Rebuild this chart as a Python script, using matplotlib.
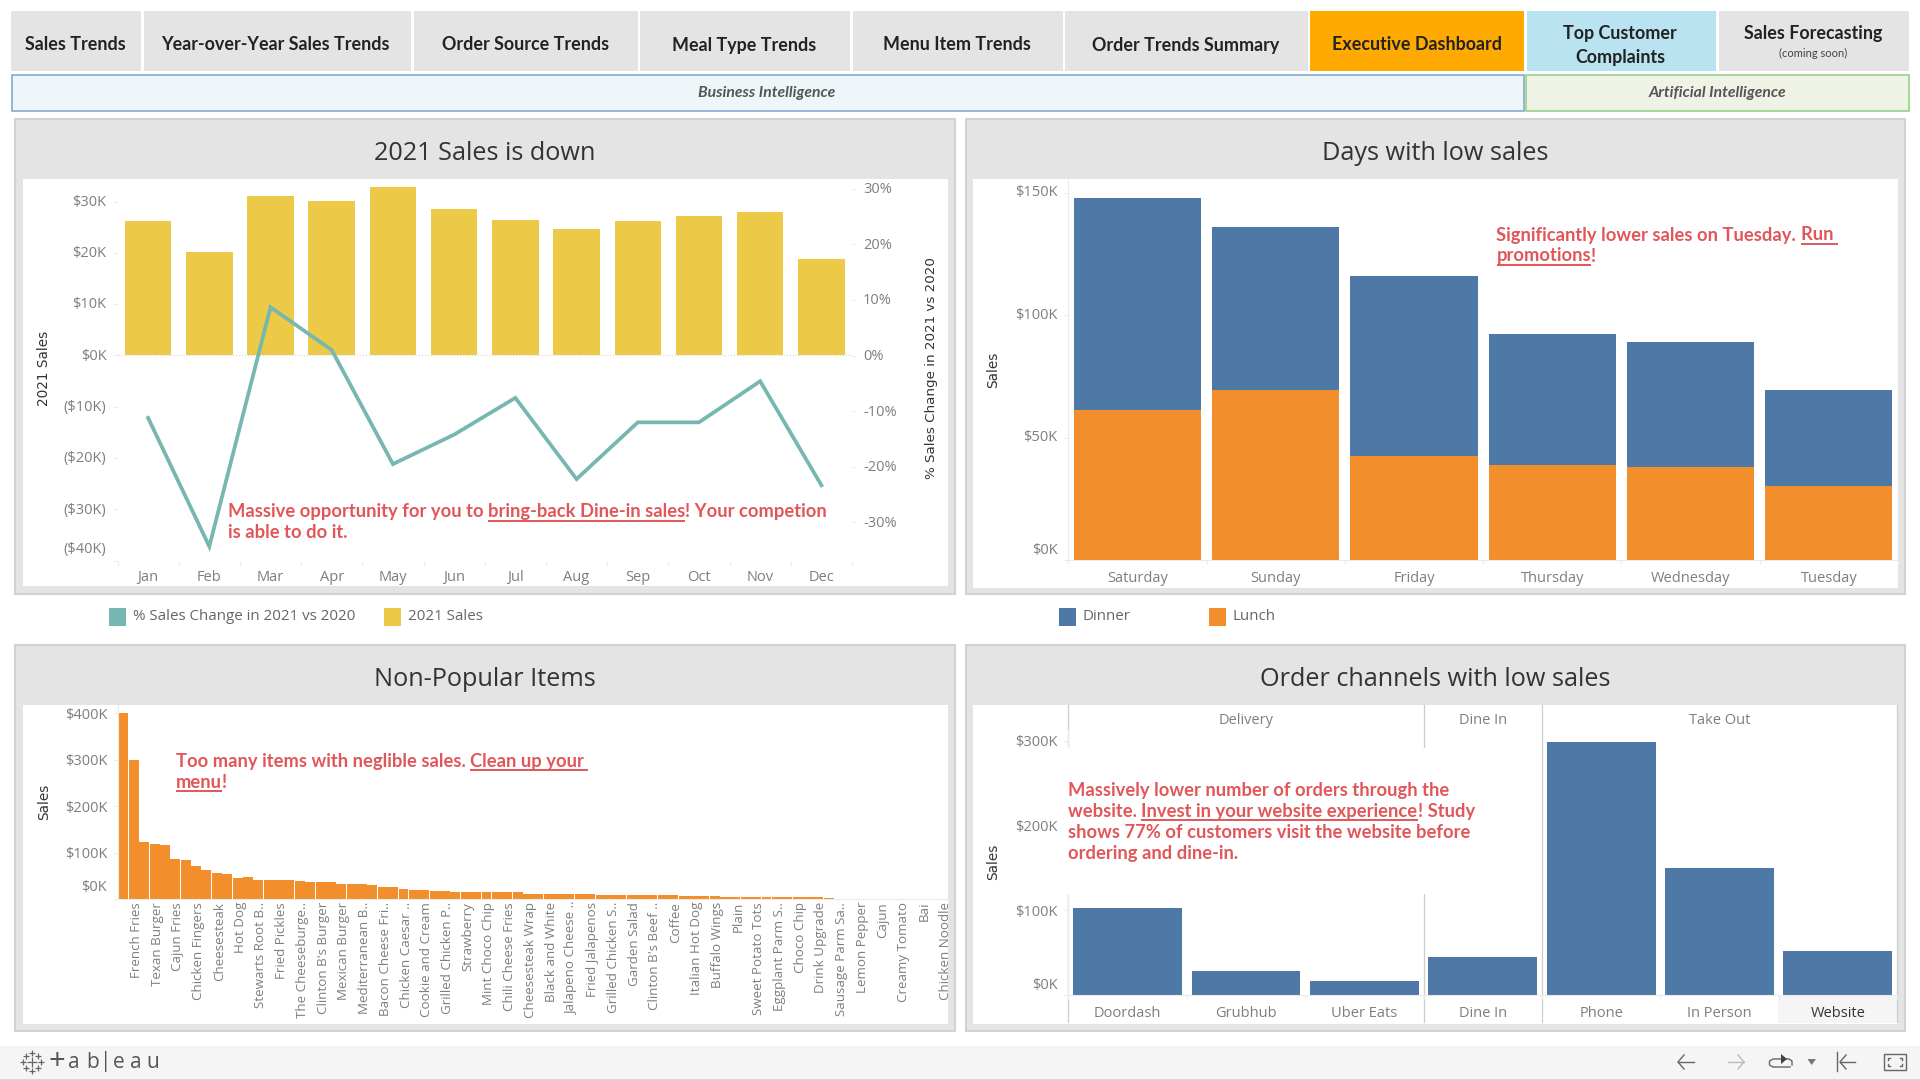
import matplotlib
matplotlib.use("Agg")
import matplotlib.pyplot as plt
from matplotlib.patches import Rectangle, Polygon
from matplotlib.ticker import FixedLocator
from matplotlib.transforms import ScaledTranslation

# ---- navigation ----
tab_names = ["Sales Trends", "Year-over-Year Sales Trends", "Order Source Trends", "Meal Type Trends",
             "Menu Item Trends", "Order Trends Summary", "Executive Dashboard"]
tab_edges = [(11, 141), (144, 411), (414, 637.5), (640, 850), (853, 1063), (1065, 1308), (1310, 1524)]
tab_text_x = [75.5, 275, 525.5, 744, 956.5, 1185.5, 1417]

# ---- 2021 sales ----
months = ["Jan", "Feb", "Mar", "Apr", "May", "Jun", "Jul", "Aug", "Sep", "Oct", "Nov", "Dec"]
sales_2021 = [26.2, 20.1, 31.0, 30.1, 32.8, 28.6, 26.4, 24.7, 26.2, 27.2, 27.9, 18.8]
pct_change = [-11.2, -34.3, 8.7, 1.0, -19.5, -14.2, -7.6, -22.2, -12.0, -12.0, -4.6, -23.3]
sales_ticks = [30, 20, 10, 0, -10, -20, -30, -40]
sales_tick_labels = ["$30K", "$20K", "$10K", "$0K", "($10K)", "($20K)", "($30K)", "($40K)"]
pct_ticks = [30, 20, 10, 0, -10, -20, -30]
pct_tick_labels = ["30%", "20%", "10%", "0%", "-10%", "-20%", "-30%"]

# ---- sales per weekday ----
days = ["Saturday", "Sunday", "Friday", "Thursday", "Wednesday", "Tuesday"]
lunch = [61.4, 69.6, 42.5, 38.9, 37.9, 30.2]
day_totals = [148.2, 136.0, 116.0, 92.4, 89.0, 69.4]
day_ticks = [0, 50, 100, 150]
day_tick_labels = ["$0K", "$50K", "$100K", "$150K"]

# ---- sales per menu item ----
item_sales = [400, 300, 122, 119, 116, 87, 84, 71, 62.5, 55, 54.5, 46, 46.5, 41, 41, 41, 40.5, 38, 36, 36,
              36, 33, 33, 33, 30, 25, 25, 22, 19, 19, 16.5, 16.5, 14.5, 14.5, 14.5, 14.5, 14.5, 15, 15, 10.8,
              10.8, 10.8, 11.5, 11.5, 11.5, 11.5, 8.6, 8.6, 8.6, 8.6, 8.6, 8.6, 8.6, 8.6, 5.7, 5.7, 5.7, 5.7,
              3.6, 3.6, 3.6, 3.6, 3.6, 3.6, 3.6, 3.6, 3.6, 3.6, 3.0, 0.9, 0.8, 0.7, 0.6, 0.6, 0.5, 0.4, 0.4,
              0.3, 0.2, 0.2]
item_labels = ["French Fries", "Texan Burger", "Cajun Fries", "Chicken Fingers", "Cheesesteak", "Hot Dog",
               "Stewarts Root B..", "Fried Pickles", "The Cheeseburge..", "Clinton B's Burger", "Mexican Burger",
               "Mediterranean B..", "Bacon Cheese Fri..", "Chicken Caesar ..", "Cookie and Cream",
               "Grilled Chicken P..", "Strawberry", "Mint Choco Chip", "Chili Cheese Fries", "Cheesesteak Wrap",
               "Black and White", "Jalapeno Cheese ..", "Fried Jalapenos", "Grilled Chicken S..", "Garden Salad",
               "Clinton B's Beef ..", "Coffee", "Italian Hot Dog", "Buffalo Wings", "Plain", "Sweet Potato Tots",
               "Eggplant Parm S..", "Choco Chip", "Drink Upgrade", "Sausage Parm Sa..", "Lemon Pepper", "Cajun",
               "Creamy Tomato", "Bai", "Chicken Noodle"]
item_ticks = [0, 100, 200, 300, 400]
item_tick_labels = ["$0K", "$100K", "$200K", "$300K", "$400K"]

# ---- sales per order channel ----
channels = ["Doordash", "Grubhub", "Uber Eats", "Dine In", "Phone", "In Person", "Website"]
channel_sales = [102.4, 28.3, 16.5, 44.9, 298.4, 149.6, 52.0]
channel_groups = [("Delivery", 0, 2), ("Dine In", 3, 3), ("Take Out", 4, 6)]
channel_ticks = [0, 100, 200, 300]
channel_tick_labels = ["$0K", "$100K", "$200K", "$300K"]

# ---- colours ----
GOLD, TEAL, BLUE, ORANGE = "#ECC947", "#76B7B2", "#4E79A7", "#F28E2B"
RED = "#E15759"
PANEL, PANEL_EDGE = "#E4E4E4", "#D2D2D2"
TICK_TEXT = "#7E7E7E"
FAINT = "#EBEBEB"
BODY = "Open Sans"
TAB_FONT = "Lato"

fig = plt.figure(figsize=(19.2, 10.8), dpi=100, facecolor="white")


def overlay(z):
    ax = fig.add_axes([0, 0, 1, 1], zorder=z)
    ax.set_xlim(0, 1920)
    ax.set_ylim(1080, 0)
    ax.axis("off")
    ax.patch.set_alpha(0)
    return ax


back = overlay(0)
front = overlay(5)


def chart_axes(x0, y0, x1, y1):
    ax = fig.add_axes([x0 / 1920, 1 - y1 / 1080, (x1 - x0) / 1920, (y1 - y0) / 1080], zorder=2)
    ax.patch.set_alpha(0)
    for side in ("top", "right"):
        ax.spines[side].set_visible(False)
    for side in ("left", "bottom"):
        ax.spines[side].set_color(FAINT)
        ax.spines[side].set_linewidth(0.8)
    ax.tick_params(axis="both", which="both", color=FAINT, width=0.8, length=3)
    return ax


def box(ax, x0, y0, x1, y1, face, edge="none", lw=0.0, z=1):
    ax.add_patch(Rectangle((x0, y0), x1 - x0, y1 - y0, facecolor=face, edgecolor=edge, linewidth=lw, zorder=z))


def nudge(label, dy_px, dx_px=0.0):
    shift = ScaledTranslation(dx_px / 100, dy_px / 100, fig.dpi_scale_trans)
    label.set_transform(label.get_transform() + shift)


def style_y(ax, ticks, labels, pad=5):
    ax.set_yticks(ticks)
    ax.set_yticklabels(labels, fontsize=10.5, color=TICK_TEXT, family=BODY)
    ax.tick_params(axis="y", pad=pad)


def category_x(ax, names, text_px, size=10.5):
    ax.set_xlim(-0.5, len(names) - 0.5)
    ax.set_xticks(range(len(names)))
    ax.set_xticklabels(names, fontsize=size, color=TICK_TEXT, family=BODY)
    ax.xaxis.set_minor_locator(FixedLocator([i - 0.5 for i in range(len(names) + 1)]))
    ax.tick_params(axis="x", which="major", length=0, pad=text_px * 0.72)


def rich_text(x, y, lines, size=13.2, step=21):
    renderer = fig.canvas.get_renderer()

    def advance(s):
        whole = front.text(0, 0, s + "|", fontsize=size, family=TAB_FONT, weight="bold")
        bar = front.text(0, 0, "|", fontsize=size, family=TAB_FONT, weight="bold")
        w = whole.get_window_extent(renderer).width - bar.get_window_extent(renderer).width
        whole.remove()
        bar.remove()
        return w

    for row, runs in enumerate(lines):
        cx = x
        cy = y + row * step
        for s, underlined in runs:
            front.text(cx, cy, s, fontsize=size, family=TAB_FONT, weight="bold", color=RED,
                       ha="left", va="center", zorder=8)
            w = advance(s)
            if underlined:
                front.plot([cx, cx + w], [cy + 8.5, cy + 8.5], color=RED, lw=1.4, solid_capstyle="butt", zorder=8)
            cx += w


# ---- tab bar ----
for name, (x0, x1), tx in zip(tab_names, tab_edges, tab_text_x):
    active = name == "Executive Dashboard"
    box(back, x0, 11, x1, 71, "#FFAA00" if active else PANEL)
    back.text(tx, 45, name, fontsize=12.9, family=TAB_FONT, weight="bold", color="#222222",
              ha="center", va="center", zorder=3)
box(back, 1526.5, 11, 1716, 71, "#B9E3F0")
back.text(1620, 33, "Top Customer", fontsize=12.9, family=TAB_FONT, weight="bold", color="#222222", ha="center", va="center", zorder=3)
back.text(1620, 57.5, "Complaints", fontsize=12.9, family=TAB_FONT, weight="bold", color="#222222", ha="center", va="center", zorder=3)
box(back, 1719, 11, 1909, 71, PANEL)
back.text(1813, 34, "Sales Forecasting", fontsize=12.9, family=TAB_FONT, weight="bold", color="#222222", ha="center", va="center", zorder=3)
back.text(1813, 53, "(coming soon)", fontsize=8, family=TAB_FONT, color="#444444", ha="center", va="center", zorder=3)

box(back, 11.5, 74.5, 1524, 110.5, "#EEF6F9", "#7CA3C8", 1.1)
box(back, 1526, 74.5, 1908.5, 110.5, "#EEF3E5", "#90CC80", 1.1)
back.text(767, 93.5, "Business Intelligence", fontsize=11.3, family=TAB_FONT, weight="bold", style="italic", color="#555555", ha="center", va="center", zorder=3)
back.text(1717.5, 93.5, "Artificial Intelligence", fontsize=11.3, family=TAB_FONT, weight="bold", style="italic", color="#555555", ha="center", va="center", zorder=3)

# ---- panel frames ----
frames = [(15, 118.5, 955, 594, 179, 586, 23, 948, "2021 Sales is down", 154),
          (966, 118.5, 1905, 594, 179, 588, 973, 1898, "Days with low sales", 154),
          (15, 645, 955, 1030.5, 705, 1024, 23, 948, "Non-Popular Items", 679.5),
          (966, 645, 1905, 1030.5, 705, 1024, 973, 1898, "Order channels with low sales", 679.5)]
for x0, y0, x1, y1, wy0, wy1, wx0, wx1, title, ty in frames:
    box(back, x0, y0, x1, y1, PANEL, PANEL_EDGE, 1.5)
    box(back, wx0, wy0, wx1, wy1, "white", z=2)
    back.text((x0 + x1) / 2, ty, title, fontsize=18.2, family=BODY, color="#333333", ha="center", va="center", zorder=3)

# ---- 2021 Sales is down ----
ax1 = chart_axes(117.5, 179, 852, 562)
ax1.set_ylim(-40.25, 34.4)
ax1.bar(range(12), sales_2021, width=0.76, color=GOLD)
ax1.spines["bottom"].set_visible(False)
ax1.axhline(0, color="#D6D6D6", lw=0.8, ls=":")
category_x(ax1, months, 8)
style_y(ax1, sales_ticks, sales_tick_labels)
for lab in ax1.get_yticklabels():
    nudge(lab, 13 if lab.get_text() == "($40K)" else 1.2)
ax1.spines["left"].set_visible(False)

ax1b = ax1.twinx()
ax1b.patch.set_alpha(0)
ax1b.set_ylim(-37.1, 31.74)
ax1b.plot(range(12), pct_change, color=TEAL, lw=2.7, solid_joinstyle="miter")
ax1b.set_yticks(pct_ticks)
ax1b.set_yticklabels(pct_tick_labels, fontsize=10.5, color=TICK_TEXT, family=BODY)
ax1b.tick_params(axis="y", color=FAINT, width=0.8, length=3, pad=5)
for lab in ax1b.get_yticklabels():
    nudge(lab, 1)
for side in ax1b.spines.values():
    side.set_visible(False)
back.text(44, 368.5, "2021 Sales", rotation=90, fontsize=9.8, color="#333333", ha="center", va="center", zorder=3)
back.text(932, 368.5, "% Sales Change in 2021 vs 2020", rotation=90, fontsize=9.7, color="#333333", ha="center", va="center", zorder=3)

# ---- Days with low sales ----
ax2 = chart_axes(1068.4, 179, 1898, 560)
ax2.set_ylim(0, 155.8)
dinner = [t - l for t, l in zip(day_totals, lunch)]
ax2.bar(range(6), lunch, width=0.92, color=ORANGE)
ax2.bar(range(6), dinner, bottom=lunch, width=0.92, color=BLUE)
category_x(ax2, days, 10.5)
style_y(ax2, day_ticks, day_tick_labels)
for lab in ax2.get_yticklabels():
    nudge(lab, 11.5 if lab.get_text() == "$0K" else 2.2)
back.text(993.5, 369.5, "Sales", rotation=90, fontsize=9.8, color="#333333", ha="center", va="center", zorder=3)

# ---- Non-Popular Items ----
ax3 = chart_axes(118.3, 705, 948, 899)
ax3.set_ylim(0, 418)
ax3.bar(range(len(item_sales)), item_sales, width=0.96, color=ORANGE)
ax3.set_xlim(-0.5, len(item_sales) - 0.5)
ax3.set_xticks(range(1, len(item_sales), 2))
ax3.set_xticklabels(item_labels, rotation=90, fontsize=9.6, color=TICK_TEXT, family=BODY)
ax3.tick_params(axis="x", length=0, pad=2)
for lab in ax3.get_xticklabels():
    nudge(lab, 0, 2.5)
style_y(ax3, item_ticks, item_tick_labels, pad=5)
for lab in ax3.get_yticklabels():
    if lab.get_text() == "$0K":
        nudge(lab, 13)
back.text(44, 802, "Sales", rotation=90, fontsize=9.8, color="#333333", ha="center", va="center", zorder=3)

# ---- Order channels with low sales ----
box(back, 1778, 996, 1897, 1023, "#F5F5F5", z=3)
ax4 = chart_axes(1068.4, 730, 1897, 995)
ax4.set_ylim(0, 312.9)
ax4.bar(range(7), channel_sales, width=0.92, color=BLUE)
category_x(ax4, channels, 11)
ax4.get_xticklabels()[-1].set_color("#333333")
style_y(ax4, channel_ticks, channel_tick_labels)
for lab in ax4.get_yticklabels():
    if lab.get_text() == "$0K":
        nudge(lab, 11)
sep = ax4.get_xaxis_transform()
for edge in [-0.5, 2.5, 3.5, 6.5]:
    ax4.plot([edge, edge], [1.094, -0.102], transform=sep, color="#CDCDCD", lw=0.9, clip_on=False, zorder=1)
for name, first, last in channel_groups:
    ax4.text((first + last) / 2, 1.035, name, transform=sep, fontsize=10.5, color=TICK_TEXT, family=BODY,
             ha="center", va="center")
back.text(993.5, 862, "Sales", rotation=90, fontsize=9.8, color="#333333", ha="center", va="center", zorder=3)
box(front, 1062, 748, 1536, 894, "white", z=1)

# ---- legends ----
for x, colour, label in [(109, TEAL, "% Sales Change in 2021 vs 2020"), (384, GOLD, "2021 Sales"),
                         (1059, BLUE, "Dinner"), (1209, ORANGE, "Lunch")]:
    box(back, x, 608, x + 16.5, 625.5, colour)
    back.text(x + 24, 617, label, fontsize=10.9, family=BODY, color="#666666", ha="left", va="center", zorder=3)

# ---- call-outs ----
rich_text(228, 512, [[("Massive opportunity for you to ", False), ("bring-back Dine-in sales", True), ("! Your competion", False)],
                     [("is able to do it.", False)]])
rich_text(1496.5, 235, [[("Significantly lower sales on Tuesday. ", False), ("Run ", True)],
                        [("promotions", True), ("!", False)]])
rich_text(175.5, 761, [[("Too many items with neglible sales. ", False), ("Clean up your ", True)],
                       [("menu", True), ("!", False)]])
rich_text(1068, 790.5, [[("Massively lower number of orders through the", False)],
                        [("website. ", False), ("Invest in your website experience", True), ("! Study", False)],
                        [("shows 77% of customers visit the website before", False)],
                        [("ordering and dine-in.", False)]])

# ---- footer ----
box(back, 0, 1046, 1920, 1079, "#F5F5F5")
back.plot([0, 1920], [1079.5, 1079.5], color="#D0D0D0", lw=1.2, zorder=2)
for cx, cy, ms in [(31.7, 1061.7, 7), (31.7, 1052.5, 5), (31.7, 1070.5, 5), (22.5, 1061.7, 5), (41, 1061.7, 5),
                   (25.5, 1055.5, 4.5), (37.5, 1055.5, 4.5), (25.5, 1067.5, 4.5), (37.5, 1067.5, 4.5)]:
    back.plot([cx], [cy], marker="+", ms=ms, mew=0.9, color="#666666", zorder=3)
for x, ch in [(56.7, "+"), (74, "a"), (92.7, "b"), (105.7, "|"), (118.7, "e"), (136, "a"), (152.7, "u")]:
    back.text(x, 1062, ch, fontsize=21 if ch == "+" else 15, family=BODY, color="#555555", ha="center", va="center", zorder=3)

icon = dict(color="#666666", lw=1.0, zorder=3)
back.plot([1678, 1694], [1062, 1062], **icon)
back.plot([1684, 1678, 1684], [1055, 1062, 1069], **icon)
back.plot([1728, 1744], [1062, 1062], color="#BBBBBB", lw=1.0, zorder=3)
back.plot([1738, 1744, 1738], [1055, 1062, 1069], color="#BBBBBB", lw=1.0, zorder=3)
back.plot([1790, 1773, 1769.5, 1769.5, 1773, 1789, 1792, 1792],
          [1067, 1067, 1065, 1061, 1059, 1059, 1061, 1065], **icon)
back.add_patch(Polygon([[1781, 1054], [1787, 1059], [1781, 1064]], closed=True, facecolor="#444444", zorder=3))
back.add_patch(Polygon([[1807.5, 1059], [1816, 1059], [1811.7, 1065]], closed=True, facecolor="#777777", zorder=3))
back.plot([1836.7, 1836.7], [1052, 1071], **icon)
back.plot([1840, 1855], [1062, 1062], **icon)
back.plot([1846, 1840, 1846], [1055, 1062, 1069], **icon)
box(back, 1884, 1054, 1906, 1070, "none", "#666666", 1.0, z=3)
for sx, sy, dx, dy in [(1888, 1058, 1, 1), (1902, 1058, -1, 1), (1888, 1066, 1, -1), (1902, 1066, -1, -1)]:
    back.plot([sx + 2 * dx, sx, sx], [sy, sy, sy + 2 * dy], **icon)

fig.savefig("out.png", dpi=100)
